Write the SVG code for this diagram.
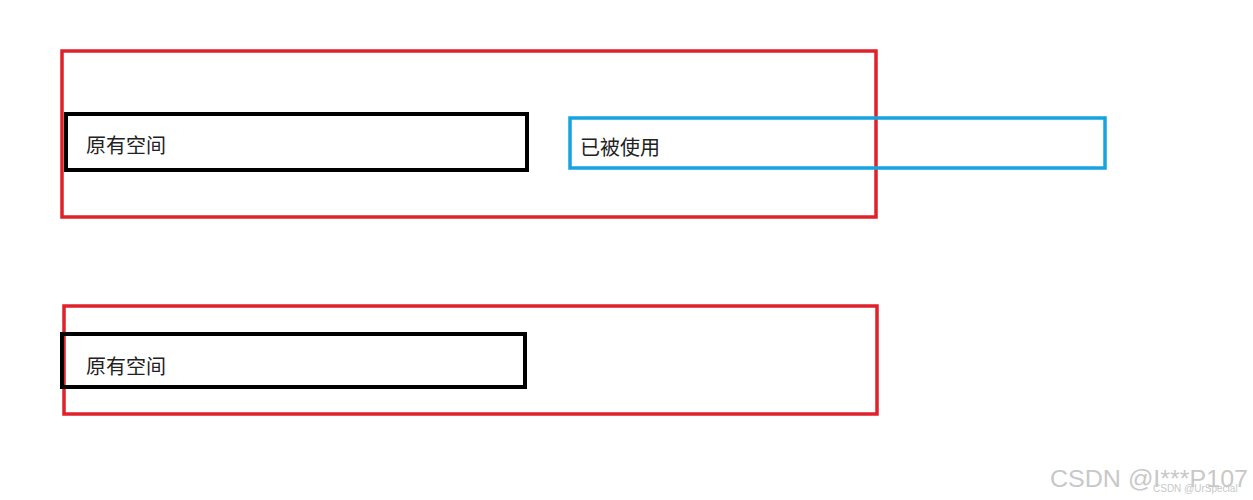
<svg xmlns="http://www.w3.org/2000/svg" width="1253" height="500" viewBox="0 0 1253 500">
<style>
.red{fill:none;stroke:#e0202a;stroke-width:3.5}
.blk{fill:none;stroke:#000;stroke-width:4}
.blu{fill:none;stroke:#16a4e0;stroke-width:3.5}
.lbl{font-family:"Noto Sans CJK SC","Noto Sans",sans-serif;font-size:20px;fill:#222}
.wm{font-family:"Liberation Sans",Arial,sans-serif;fill:#c8c8c8}
</style>
<rect width="1253" height="500" fill="#fff"/>
<g id="top-container"><rect class="red" x="62" y="51" width="814" height="166"/></g>
<g id="top-original"><rect class="blk" x="66" y="114" width="461" height="56"/><text class="lbl" x="86" y="153">原有空间</text></g>
<g id="used"><rect class="blu" x="570" y="118" width="535" height="50"/><text class="lbl" x="580" y="155">已被使用</text></g>
<g id="bottom-container"><rect class="red" x="64" y="306" width="813" height="108"/></g>
<g id="bottom-original"><rect class="blk" x="62" y="334" width="463" height="53"/><text class="lbl" x="86" y="374">原有空间</text></g>
<g id="connectors"></g>
<text class="wm" x="1050" y="487" font-size="23" textLength="198" lengthAdjust="spacingAndGlyphs">CSDN @I***P107</text>
<text class="wm" x="1153" y="492" font-size="10" fill="#999">CSDN @UrSpecial</text>
</svg>
